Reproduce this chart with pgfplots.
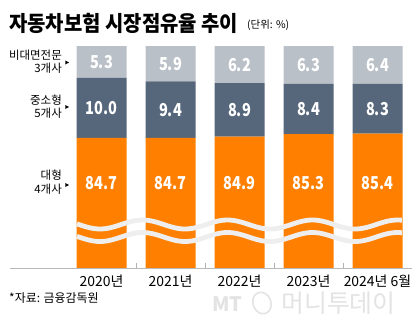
\documentclass[border=0pt]{standalone}
\usepackage{fontspec}
\setmainfont{Noto Sans CJK KR}
\usepackage{pgfplots}
\pgfplotsset{compat=1.18}
\definecolor{cgray}{HTML}{BAC0C8}
\definecolor{cdark}{HTML}{56667B}
\definecolor{corange}{HTML}{FF8000}
\begin{document}
\begin{tikzpicture}
\path (0bp,0bp) rectangle (420bp,-331bp);
\begin{axis}[
  at={(67bp,-268bp)}, anchor=south west,
  scale only axis, width=345bp, height=222bp,
  xmin=-0.5, xmax=4.5, ymin=63, ymax=100,
  ybar stacked, bar width=50bp,
  hide y axis,
  axis x line=bottom,
  x axis line style={draw=none},
  xtick={0,1,2,3,4},
  xticklabels={2020년,2021년,2022년,2023년,2024년 6월},
  major tick length=0pt,
  x tick label style={font=\fontsize{14}{14}\selectfont, yshift=-3bp, text=black},
  extra x ticks={0.5,1.5,2.5,3.5},
  extra x tick labels={},
  extra x tick style={major tick length=5bp, tick align=inside, tick style={draw=gray!60, line width=0.6bp}},
]
\addplot[fill=corange, draw=none] coordinates {(0,84.7) (1,84.7) (2,84.9) (3,85.3) (4,85.4)};
\addplot[fill=cdark, draw=none] coordinates {(0,10.0) (1,9.4) (2,8.9) (3,8.4) (4,8.3)};
\addplot[fill=cgray, draw=none] coordinates {(0,5.3) (1,5.9) (2,6.2) (3,6.3) (4,6.4)};
\end{axis}
\begin{scope}[x=1bp,y=-1bp]
\draw[gray!13, line width=4.8bp] plot[domain=77:402, samples=120, smooth] (\x, {224.5 + 4.5*cos((\x-100)/85*360)});
\draw[gray!13, line width=4.8bp] plot[domain=77:402, samples=120, smooth] (\x, {237 + 4.5*cos((\x-100)/85*360)});
\draw[gray!55, line width=0.8bp] (10,268) -- (412,268);
\end{scope}
\begin{axis}[
  at={(67bp,-268bp)}, anchor=south west,
  scale only axis, width=345bp, height=222bp,
  xmin=-0.5, xmax=4.5, ymin=63, ymax=100,
  hide axis, clip=false,
  nodes near coords={\scalebox{0.86}[1.05]{\pgfplotspointmeta}},
  point meta=explicit symbolic,
  every node near coord/.style={anchor=center, text=white, font=\bfseries\fontsize{17}{17}\selectfont},
]
\addplot[draw=none] coordinates {(0,97.35)[5.3] (1,97.05)[5.9] (2,96.9)[6.2] (3,96.85)[6.3] (4,96.9)[6.4]};
\addplot[draw=none] coordinates {(0,89.7)[10.0] (1,89.4)[9.4] (2,89.35)[8.9] (3,89.5)[8.4] (4,89.55)[8.3]};
\addplot[draw=none] coordinates {(0,77.2)[84.7] (1,77.2)[84.7] (2,77.2)[84.9] (3,77.2)[85.3] (4,77.2)[85.4]};
\end{axis}
\begin{scope}[x=1bp,y=-1bp]
\node[anchor=west, inner sep=0pt, font=\bfseries\fontsize{21.5}{21.5}\selectfont] at (9,23.5) {\scalebox{0.93}[1]{자동차보험 시장점유율 추이}};
\node[anchor=west, inner sep=0pt, font=\fontsize{10.5}{10.5}\selectfont] at (247,25.5) {(단위: \%)};
\node[anchor=east, align=right, inner sep=0pt, font=\fontsize{11.5}{13.5}\selectfont] at (62,61.5) {비대면전문\\3개사};
\node[anchor=east, align=right, inner sep=0pt, font=\fontsize{11.5}{13.5}\selectfont] at (62,106.5) {중소형\\5개사};
\node[anchor=east, align=right, inner sep=0pt, font=\fontsize{11.5}{13.5}\selectfont] at (62,182) {대형\\4개사};
\fill (65.3,60.5) -- (69,62.5) -- (65.3,64.5) -- cycle;
\fill (65.3,105) -- (69,107) -- (65.3,109) -- cycle;
\fill (65.3,183) -- (69,185) -- (65.3,187) -- cycle;
\node[anchor=west, inner sep=0pt, font=\fontsize{12}{12}\selectfont] at (9,298) {*자료: 금융감독원};
\node[anchor=west, inner sep=0pt, text=gray!22, font=\bfseries\itshape\fontsize{20}{20}\selectfont] at (212,304) {MT};
\draw[gray!22, line width=1.6bp, rotate around={20:(262,303)}] (262,303) ellipse (9 and 11);
\node[anchor=west, inner sep=0pt, text=gray!22, font=\fontsize{25}{25}\selectfont] at (281,303) {머니투데이};
\end{scope}
\end{tikzpicture}
\end{document}
